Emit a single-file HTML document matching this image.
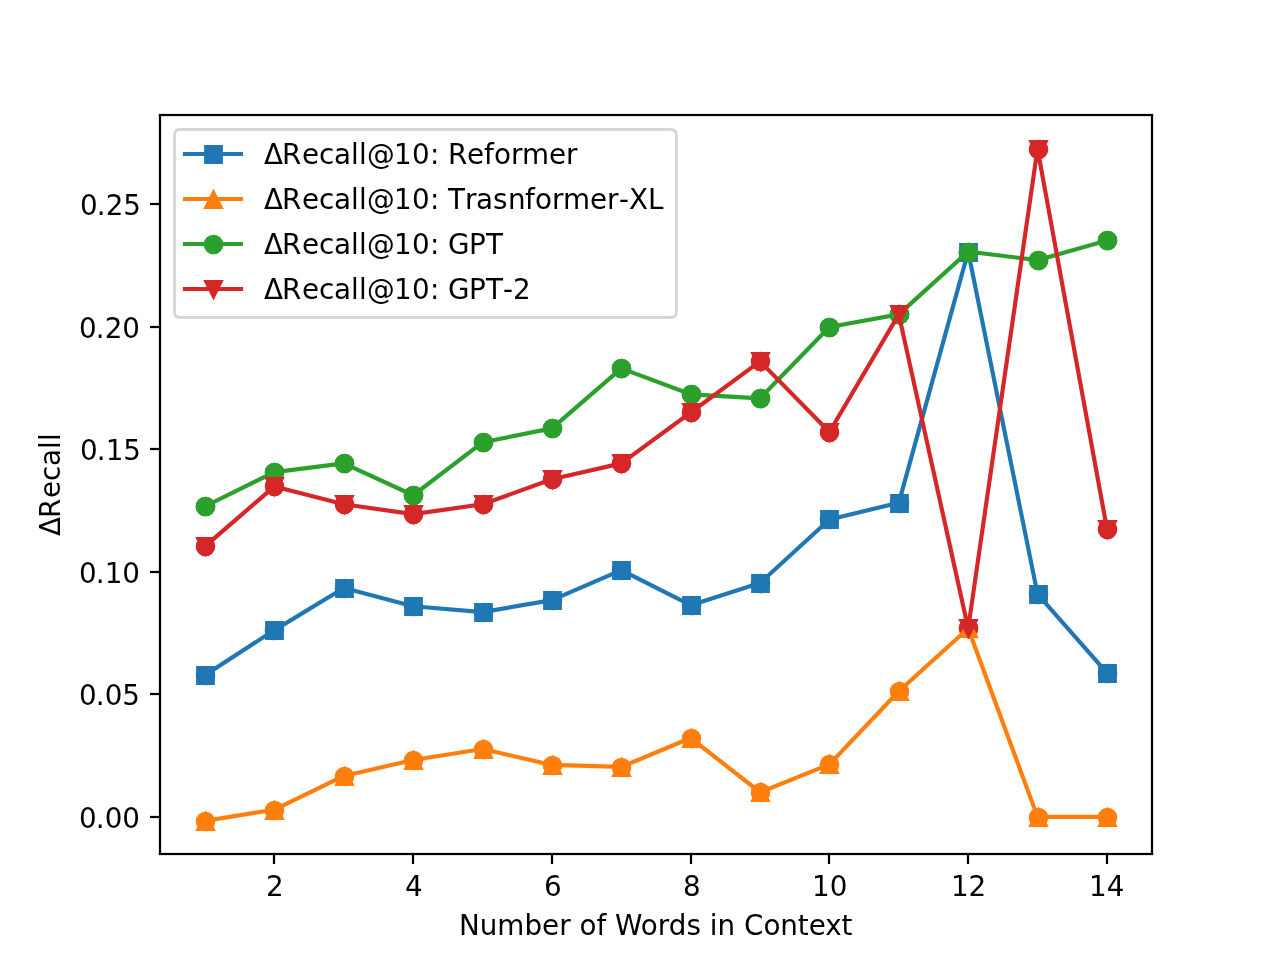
<!DOCTYPE html>
<html><head><meta charset="utf-8"><title>Delta Recall vs Number of Words in Context</title>
<style>html,body{margin:0;padding:0;background:#fff;width:1280px;height:960px;overflow:hidden}svg{display:block}</style>
</head><body>
<svg width="1280" height="960" viewBox="0 0 460.8 345.6">
<defs>
<style type="text/css">*{stroke-linejoin: round; stroke-linecap: butt}</style>
</defs>
<g id="figure_1">
<g id="patch_1">
<path d="M 0 345.6
L 460.8 345.6
L 460.8 0
L 0 0
z
" style="fill: #ffffff"/>
</g>
<g id="axes_1">
<g id="patch_2">
<path d="M 57.6 307.584
L 414.72 307.584
L 414.72 41.472
L 57.6 41.472
z
" style="fill: #ffffff"/>
</g>
<g id="matplotlib.axis_1">
<g id="xtick_1">
<g id="line2d_1">
<g>
<path d="M 0 0
L 0 3.6" transform="translate(98.64 307.44)" style="stroke: #000000; stroke-width: 0.8"/>
</g>
</g>
<g id="text_1">
<text x="95.76" y="322.56" style="font-size: 10px; font-family: 'DejaVu Sans', sans-serif">2</text>
</g>
</g>
<g id="xtick_2">
<g id="line2d_2">
<g>
<path d="M 0 0
L 0 3.6" transform="translate(148.68 307.44)" style="stroke: #000000; stroke-width: 0.8"/>
</g>
</g>
<g id="text_2">
<text x="145.8" y="322.56" style="font-size: 10px; font-family: 'DejaVu Sans', sans-serif">4</text>
</g>
</g>
<g id="xtick_3">
<g id="line2d_3">
<g>
<path d="M 0 0
L 0 3.6" transform="translate(198.72 307.44)" style="stroke: #000000; stroke-width: 0.8"/>
</g>
</g>
<g id="text_3">
<text x="195.84" y="322.56" style="font-size: 10px; font-family: 'DejaVu Sans', sans-serif">6</text>
</g>
</g>
<g id="xtick_4">
<g id="line2d_4">
<g>
<path d="M 0 0
L 0 3.6" transform="translate(248.76 307.44)" style="stroke: #000000; stroke-width: 0.8"/>
</g>
</g>
<g id="text_4">
<text x="245.88" y="322.56" style="font-size: 10px; font-family: 'DejaVu Sans', sans-serif">8</text>
</g>
</g>
<g id="xtick_5">
<g id="line2d_5">
<g>
<path d="M 0 0
L 0 3.6" transform="translate(298.44 307.44)" style="stroke: #000000; stroke-width: 0.8"/>
</g>
</g>
<g id="text_5">
<text x="292.32 298.665" y="322.56" style="font-size: 10px; font-family: 'DejaVu Sans', sans-serif">10</text>
</g>
</g>
<g id="xtick_6">
<g id="line2d_6">
<g>
<path d="M 0 0
L 0 3.6" transform="translate(348.48 307.44)" style="stroke: #000000; stroke-width: 0.8"/>
</g>
</g>
<g id="text_6">
<text x="342.36 348.705" y="322.56" style="font-size: 10px; font-family: 'DejaVu Sans', sans-serif">12</text>
</g>
</g>
<g id="xtick_7">
<g id="line2d_7">
<g>
<path d="M 0 0
L 0 3.6" transform="translate(398.52 307.44)" style="stroke: #000000; stroke-width: 0.8"/>
</g>
</g>
<g id="text_7">
<text x="392.04 398.385" y="322.56" style="font-size: 10px; font-family: 'DejaVu Sans', sans-serif">14</text>
</g>
</g>
<g id="text_8">
<text x="165.24 172.71 179.055 188.82 195.165 201.285 205.425 208.62 214.695 218.205 221.4 230.715 236.79 240.75 247.095 252.315 255.51 258.3 264.645 267.84 274.815 280.89 287.235 291.15 297.09 302.985" y="336.6" style="font-size: 10px; font-family: 'DejaVu Sans', sans-serif">Number of Words in Context</text>
</g>
</g>
<g id="matplotlib.axis_2">
<g id="ytick_1">
<g id="line2d_8">
<g>
<path d="M 0 0
L -3.6 0" transform="translate(57.6 294.12)" style="stroke: #000000; stroke-width: 0.8"/>
</g>
</g>
<g id="text_9">
<text x="28.44 34.47 37.665 44.055" y="298.08" style="font-size: 10px; font-family: 'DejaVu Sans', sans-serif">0.00</text>
</g>
</g>
<g id="ytick_2">
<g id="line2d_9">
<g>
<path d="M 0 0
L -3.6 0" transform="translate(57.6 249.84)" style="stroke: #000000; stroke-width: 0.8"/>
</g>
</g>
<g id="text_10">
<text x="28.44 34.47 37.665 44.055" y="253.8" style="font-size: 10px; font-family: 'DejaVu Sans', sans-serif">0.05</text>
</g>
</g>
<g id="ytick_3">
<g id="line2d_10">
<g>
<path d="M 0 0
L -3.6 0" transform="translate(57.6 205.92)" style="stroke: #000000; stroke-width: 0.8"/>
</g>
</g>
<g id="text_11">
<text x="28.44 34.47 37.665 44.01" y="209.88" style="font-size: 10px; font-family: 'DejaVu Sans', sans-serif">0.10</text>
</g>
</g>
<g id="ytick_4">
<g id="line2d_11">
<g>
<path d="M 0 0
L -3.6 0" transform="translate(57.6 161.64)" style="stroke: #000000; stroke-width: 0.8"/>
</g>
</g>
<g id="text_12">
<text x="28.8 34.83 38.025 44.37" y="165.6" style="font-size: 10px; font-family: 'DejaVu Sans', sans-serif">0.15</text>
</g>
</g>
<g id="ytick_5">
<g id="line2d_12">
<g>
<path d="M 0 0
L -3.6 0" transform="translate(57.6 117.72)" style="stroke: #000000; stroke-width: 0.8"/>
</g>
</g>
<g id="text_13">
<text x="28.44 34.47 37.665 44.01" y="121.68" style="font-size: 10px; font-family: 'DejaVu Sans', sans-serif">0.20</text>
</g>
</g>
<g id="ytick_6">
<g id="line2d_13">
<g>
<path d="M 0 0
L -3.6 0" transform="translate(57.6 73.44)" style="stroke: #000000; stroke-width: 0.8"/>
</g>
</g>
<g id="text_14">
<text x="28.8 34.83 38.025 44.37" y="77.4" style="font-size: 10px; font-family: 'DejaVu Sans', sans-serif">0.25</text>
</g>
</g>
<g id="text_15">
<text x="-192.96 -186.48 -179.28 -173.16 -167.76 -161.64 -158.76" y="21.6" style="font-size: 10px; font-family: 'DejaVu Sans', sans-serif" transform="rotate(-90)">ΔRecall</text>
</g>
</g>
<g id="line2d_14">
<g clip-path="url(#p86c582d0f3)">
<path d="M 0 3.027
C 0.8028 3.027 1.5728 2.7081 2.1404 2.1404
C 2.7081 1.5728 3.027 0.8028 3.027 0
C 3.027 -0.8028 2.7081 -1.5728 2.1404 -2.1404
C 1.5728 -2.7081 0.8028 -3.027 0 -3.027
C -0.8028 -3.027 -1.5728 -2.7081 -2.1404 -2.1404
C -2.7081 -1.5728 -3.027 -0.8028 -3.027 0
C -3.027 0.8028 -2.7081 1.5728 -2.1404 2.1404
C -1.5728 2.7081 -0.8028 3.027 0 3.027
z" transform="translate(73.98 243.18)" style="fill: #1f77b4; stroke: #1f77b4"/>
<path d="M 0 3.027
C 0.8028 3.027 1.5728 2.7081 2.1404 2.1404
C 2.7081 1.5728 3.027 0.8028 3.027 0
C 3.027 -0.8028 2.7081 -1.5728 2.1404 -2.1404
C 1.5728 -2.7081 0.8028 -3.027 0 -3.027
C -0.8028 -3.027 -1.5728 -2.7081 -2.1404 -2.1404
C -2.7081 -1.5728 -3.027 -0.8028 -3.027 0
C -3.027 0.8028 -2.7081 1.5728 -2.1404 2.1404
C -1.5728 2.7081 -0.8028 3.027 0 3.027
z" transform="translate(98.82 226.98)" style="fill: #1f77b4; stroke: #1f77b4"/>
<path d="M 0 3.027
C 0.8028 3.027 1.5728 2.7081 2.1404 2.1404
C 2.7081 1.5728 3.027 0.8028 3.027 0
C 3.027 -0.8028 2.7081 -1.5728 2.1404 -2.1404
C 1.5728 -2.7081 0.8028 -3.027 0 -3.027
C -0.8028 -3.027 -1.5728 -2.7081 -2.1404 -2.1404
C -2.7081 -1.5728 -3.027 -0.8028 -3.027 0
C -3.027 0.8028 -2.7081 1.5728 -2.1404 2.1404
C -1.5728 2.7081 -0.8028 3.027 0 3.027
z" transform="translate(124.02 211.86)" style="fill: #1f77b4; stroke: #1f77b4"/>
<path d="M 0 3.027
C 0.8028 3.027 1.5728 2.7081 2.1404 2.1404
C 2.7081 1.5728 3.027 0.8028 3.027 0
C 3.027 -0.8028 2.7081 -1.5728 2.1404 -2.1404
C 1.5728 -2.7081 0.8028 -3.027 0 -3.027
C -0.8028 -3.027 -1.5728 -2.7081 -2.1404 -2.1404
C -2.7081 -1.5728 -3.027 -0.8028 -3.027 0
C -3.027 0.8028 -2.7081 1.5728 -2.1404 2.1404
C -1.5728 2.7081 -0.8028 3.027 0 3.027
z" transform="translate(148.86 218.34)" style="fill: #1f77b4; stroke: #1f77b4"/>
<path d="M 0 3.027
C 0.8028 3.027 1.5728 2.7081 2.1404 2.1404
C 2.7081 1.5728 3.027 0.8028 3.027 0
C 3.027 -0.8028 2.7081 -1.5728 2.1404 -2.1404
C 1.5728 -2.7081 0.8028 -3.027 0 -3.027
C -0.8028 -3.027 -1.5728 -2.7081 -2.1404 -2.1404
C -2.7081 -1.5728 -3.027 -0.8028 -3.027 0
C -3.027 0.8028 -2.7081 1.5728 -2.1404 2.1404
C -1.5728 2.7081 -0.8028 3.027 0 3.027
z" transform="translate(174.06 220.5)" style="fill: #1f77b4; stroke: #1f77b4"/>
<path d="M 0 3.027
C 0.8028 3.027 1.5728 2.7081 2.1404 2.1404
C 2.7081 1.5728 3.027 0.8028 3.027 0
C 3.027 -0.8028 2.7081 -1.5728 2.1404 -2.1404
C 1.5728 -2.7081 0.8028 -3.027 0 -3.027
C -0.8028 -3.027 -1.5728 -2.7081 -2.1404 -2.1404
C -2.7081 -1.5728 -3.027 -0.8028 -3.027 0
C -3.027 0.8028 -2.7081 1.5728 -2.1404 2.1404
C -1.5728 2.7081 -0.8028 3.027 0 3.027
z" transform="translate(198.9 216.18)" style="fill: #1f77b4; stroke: #1f77b4"/>
<path d="M 0 3.027
C 0.8028 3.027 1.5728 2.7081 2.1404 2.1404
C 2.7081 1.5728 3.027 0.8028 3.027 0
C 3.027 -0.8028 2.7081 -1.5728 2.1404 -2.1404
C 1.5728 -2.7081 0.8028 -3.027 0 -3.027
C -0.8028 -3.027 -1.5728 -2.7081 -2.1404 -2.1404
C -2.7081 -1.5728 -3.027 -0.8028 -3.027 0
C -3.027 0.8028 -2.7081 1.5728 -2.1404 2.1404
C -1.5728 2.7081 -0.8028 3.027 0 3.027
z" transform="translate(223.74 205.38)" style="fill: #1f77b4; stroke: #1f77b4"/>
<path d="M 0 3.027
C 0.8028 3.027 1.5728 2.7081 2.1404 2.1404
C 2.7081 1.5728 3.027 0.8028 3.027 0
C 3.027 -0.8028 2.7081 -1.5728 2.1404 -2.1404
C 1.5728 -2.7081 0.8028 -3.027 0 -3.027
C -0.8028 -3.027 -1.5728 -2.7081 -2.1404 -2.1404
C -2.7081 -1.5728 -3.027 -0.8028 -3.027 0
C -3.027 0.8028 -2.7081 1.5728 -2.1404 2.1404
C -1.5728 2.7081 -0.8028 3.027 0 3.027
z" transform="translate(248.94 217.98)" style="fill: #1f77b4; stroke: #1f77b4"/>
<path d="M 0 3.027
C 0.8028 3.027 1.5728 2.7081 2.1404 2.1404
C 2.7081 1.5728 3.027 0.8028 3.027 0
C 3.027 -0.8028 2.7081 -1.5728 2.1404 -2.1404
C 1.5728 -2.7081 0.8028 -3.027 0 -3.027
C -0.8028 -3.027 -1.5728 -2.7081 -2.1404 -2.1404
C -2.7081 -1.5728 -3.027 -0.8028 -3.027 0
C -3.027 0.8028 -2.7081 1.5728 -2.1404 2.1404
C -1.5728 2.7081 -0.8028 3.027 0 3.027
z" transform="translate(273.78 210.06)" style="fill: #1f77b4; stroke: #1f77b4"/>
<path d="M 0 3.027
C 0.8028 3.027 1.5728 2.7081 2.1404 2.1404
C 2.7081 1.5728 3.027 0.8028 3.027 0
C 3.027 -0.8028 2.7081 -1.5728 2.1404 -2.1404
C 1.5728 -2.7081 0.8028 -3.027 0 -3.027
C -0.8028 -3.027 -1.5728 -2.7081 -2.1404 -2.1404
C -2.7081 -1.5728 -3.027 -0.8028 -3.027 0
C -3.027 0.8028 -2.7081 1.5728 -2.1404 2.1404
C -1.5728 2.7081 -0.8028 3.027 0 3.027
z" transform="translate(298.62 187.02)" style="fill: #1f77b4; stroke: #1f77b4"/>
<path d="M 0 3.027
C 0.8028 3.027 1.5728 2.7081 2.1404 2.1404
C 2.7081 1.5728 3.027 0.8028 3.027 0
C 3.027 -0.8028 2.7081 -1.5728 2.1404 -2.1404
C 1.5728 -2.7081 0.8028 -3.027 0 -3.027
C -0.8028 -3.027 -1.5728 -2.7081 -2.1404 -2.1404
C -2.7081 -1.5728 -3.027 -0.8028 -3.027 0
C -3.027 0.8028 -2.7081 1.5728 -2.1404 2.1404
C -1.5728 2.7081 -0.8028 3.027 0 3.027
z" transform="translate(323.82 181.26)" style="fill: #1f77b4; stroke: #1f77b4"/>
<path d="M 0 3.027
C 0.8028 3.027 1.5728 2.7081 2.1404 2.1404
C 2.7081 1.5728 3.027 0.8028 3.027 0
C 3.027 -0.8028 2.7081 -1.5728 2.1404 -2.1404
C 1.5728 -2.7081 0.8028 -3.027 0 -3.027
C -0.8028 -3.027 -1.5728 -2.7081 -2.1404 -2.1404
C -2.7081 -1.5728 -3.027 -0.8028 -3.027 0
C -3.027 0.8028 -2.7081 1.5728 -2.1404 2.1404
C -1.5728 2.7081 -0.8028 3.027 0 3.027
z" transform="translate(348.66 90.9)" style="fill: #1f77b4; stroke: #1f77b4"/>
<path d="M 0 3.027
C 0.8028 3.027 1.5728 2.7081 2.1404 2.1404
C 2.7081 1.5728 3.027 0.8028 3.027 0
C 3.027 -0.8028 2.7081 -1.5728 2.1404 -2.1404
C 1.5728 -2.7081 0.8028 -3.027 0 -3.027
C -0.8028 -3.027 -1.5728 -2.7081 -2.1404 -2.1404
C -2.7081 -1.5728 -3.027 -0.8028 -3.027 0
C -3.027 0.8028 -2.7081 1.5728 -2.1404 2.1404
C -1.5728 2.7081 -0.8028 3.027 0 3.027
z" transform="translate(373.86 214.02)" style="fill: #1f77b4; stroke: #1f77b4"/>
<path d="M 0 3.027
C 0.8028 3.027 1.5728 2.7081 2.1404 2.1404
C 2.7081 1.5728 3.027 0.8028 3.027 0
C 3.027 -0.8028 2.7081 -1.5728 2.1404 -2.1404
C 1.5728 -2.7081 0.8028 -3.027 0 -3.027
C -0.8028 -3.027 -1.5728 -2.7081 -2.1404 -2.1404
C -2.7081 -1.5728 -3.027 -0.8028 -3.027 0
C -3.027 0.8028 -2.7081 1.5728 -2.1404 2.1404
C -1.5728 2.7081 -0.8028 3.027 0 3.027
z" transform="translate(398.7 242.46)" style="fill: #1f77b4; stroke: #1f77b4"/>
</g>
</g>
<g id="line2d_15">
<g clip-path="url(#p86c582d0f3)">
<path d="M 0 3.027
C 0.8028 3.027 1.5728 2.7081 2.1404 2.1404
C 2.7081 1.5728 3.027 0.8028 3.027 0
C 3.027 -0.8028 2.7081 -1.5728 2.1404 -2.1404
C 1.5728 -2.7081 0.8028 -3.027 0 -3.027
C -0.8028 -3.027 -1.5728 -2.7081 -2.1404 -2.1404
C -2.7081 -1.5728 -3.027 -0.8028 -3.027 0
C -3.027 0.8028 -2.7081 1.5728 -2.1404 2.1404
C -1.5728 2.7081 -0.8028 3.027 0 3.027
z" transform="translate(73.98 295.74)" style="fill: #ff7f0e; stroke: #ff7f0e"/>
<path d="M 0 3.027
C 0.8028 3.027 1.5728 2.7081 2.1404 2.1404
C 2.7081 1.5728 3.027 0.8028 3.027 0
C 3.027 -0.8028 2.7081 -1.5728 2.1404 -2.1404
C 1.5728 -2.7081 0.8028 -3.027 0 -3.027
C -0.8028 -3.027 -1.5728 -2.7081 -2.1404 -2.1404
C -2.7081 -1.5728 -3.027 -0.8028 -3.027 0
C -3.027 0.8028 -2.7081 1.5728 -2.1404 2.1404
C -1.5728 2.7081 -0.8028 3.027 0 3.027
z" transform="translate(98.82 291.78)" style="fill: #ff7f0e; stroke: #ff7f0e"/>
<path d="M 0 3.027
C 0.8028 3.027 1.5728 2.7081 2.1404 2.1404
C 2.7081 1.5728 3.027 0.8028 3.027 0
C 3.027 -0.8028 2.7081 -1.5728 2.1404 -2.1404
C 1.5728 -2.7081 0.8028 -3.027 0 -3.027
C -0.8028 -3.027 -1.5728 -2.7081 -2.1404 -2.1404
C -2.7081 -1.5728 -3.027 -0.8028 -3.027 0
C -3.027 0.8028 -2.7081 1.5728 -2.1404 2.1404
C -1.5728 2.7081 -0.8028 3.027 0 3.027
z" transform="translate(124.02 279.54)" style="fill: #ff7f0e; stroke: #ff7f0e"/>
<path d="M 0 3.027
C 0.8028 3.027 1.5728 2.7081 2.1404 2.1404
C 2.7081 1.5728 3.027 0.8028 3.027 0
C 3.027 -0.8028 2.7081 -1.5728 2.1404 -2.1404
C 1.5728 -2.7081 0.8028 -3.027 0 -3.027
C -0.8028 -3.027 -1.5728 -2.7081 -2.1404 -2.1404
C -2.7081 -1.5728 -3.027 -0.8028 -3.027 0
C -3.027 0.8028 -2.7081 1.5728 -2.1404 2.1404
C -1.5728 2.7081 -0.8028 3.027 0 3.027
z" transform="translate(148.86 273.78)" style="fill: #ff7f0e; stroke: #ff7f0e"/>
<path d="M 0 3.027
C 0.8028 3.027 1.5728 2.7081 2.1404 2.1404
C 2.7081 1.5728 3.027 0.8028 3.027 0
C 3.027 -0.8028 2.7081 -1.5728 2.1404 -2.1404
C 1.5728 -2.7081 0.8028 -3.027 0 -3.027
C -0.8028 -3.027 -1.5728 -2.7081 -2.1404 -2.1404
C -2.7081 -1.5728 -3.027 -0.8028 -3.027 0
C -3.027 0.8028 -2.7081 1.5728 -2.1404 2.1404
C -1.5728 2.7081 -0.8028 3.027 0 3.027
z" transform="translate(174.06 269.82)" style="fill: #ff7f0e; stroke: #ff7f0e"/>
<path d="M 0 3.027
C 0.8028 3.027 1.5728 2.7081 2.1404 2.1404
C 2.7081 1.5728 3.027 0.8028 3.027 0
C 3.027 -0.8028 2.7081 -1.5728 2.1404 -2.1404
C 1.5728 -2.7081 0.8028 -3.027 0 -3.027
C -0.8028 -3.027 -1.5728 -2.7081 -2.1404 -2.1404
C -2.7081 -1.5728 -3.027 -0.8028 -3.027 0
C -3.027 0.8028 -2.7081 1.5728 -2.1404 2.1404
C -1.5728 2.7081 -0.8028 3.027 0 3.027
z" transform="translate(198.9 275.58)" style="fill: #ff7f0e; stroke: #ff7f0e"/>
<path d="M 0 3.027
C 0.8028 3.027 1.5728 2.7081 2.1404 2.1404
C 2.7081 1.5728 3.027 0.8028 3.027 0
C 3.027 -0.8028 2.7081 -1.5728 2.1404 -2.1404
C 1.5728 -2.7081 0.8028 -3.027 0 -3.027
C -0.8028 -3.027 -1.5728 -2.7081 -2.1404 -2.1404
C -2.7081 -1.5728 -3.027 -0.8028 -3.027 0
C -3.027 0.8028 -2.7081 1.5728 -2.1404 2.1404
C -1.5728 2.7081 -0.8028 3.027 0 3.027
z" transform="translate(223.74 276.3)" style="fill: #ff7f0e; stroke: #ff7f0e"/>
<path d="M 0 3.027
C 0.8028 3.027 1.5728 2.7081 2.1404 2.1404
C 2.7081 1.5728 3.027 0.8028 3.027 0
C 3.027 -0.8028 2.7081 -1.5728 2.1404 -2.1404
C 1.5728 -2.7081 0.8028 -3.027 0 -3.027
C -0.8028 -3.027 -1.5728 -2.7081 -2.1404 -2.1404
C -2.7081 -1.5728 -3.027 -0.8028 -3.027 0
C -3.027 0.8028 -2.7081 1.5728 -2.1404 2.1404
C -1.5728 2.7081 -0.8028 3.027 0 3.027
z" transform="translate(248.94 265.86)" style="fill: #ff7f0e; stroke: #ff7f0e"/>
<path d="M 0 3.027
C 0.8028 3.027 1.5728 2.7081 2.1404 2.1404
C 2.7081 1.5728 3.027 0.8028 3.027 0
C 3.027 -0.8028 2.7081 -1.5728 2.1404 -2.1404
C 1.5728 -2.7081 0.8028 -3.027 0 -3.027
C -0.8028 -3.027 -1.5728 -2.7081 -2.1404 -2.1404
C -2.7081 -1.5728 -3.027 -0.8028 -3.027 0
C -3.027 0.8028 -2.7081 1.5728 -2.1404 2.1404
C -1.5728 2.7081 -0.8028 3.027 0 3.027
z" transform="translate(273.78 285.3)" style="fill: #ff7f0e; stroke: #ff7f0e"/>
<path d="M 0 3.027
C 0.8028 3.027 1.5728 2.7081 2.1404 2.1404
C 2.7081 1.5728 3.027 0.8028 3.027 0
C 3.027 -0.8028 2.7081 -1.5728 2.1404 -2.1404
C 1.5728 -2.7081 0.8028 -3.027 0 -3.027
C -0.8028 -3.027 -1.5728 -2.7081 -2.1404 -2.1404
C -2.7081 -1.5728 -3.027 -0.8028 -3.027 0
C -3.027 0.8028 -2.7081 1.5728 -2.1404 2.1404
C -1.5728 2.7081 -0.8028 3.027 0 3.027
z" transform="translate(298.62 275.22)" style="fill: #ff7f0e; stroke: #ff7f0e"/>
<path d="M 0 3.027
C 0.8028 3.027 1.5728 2.7081 2.1404 2.1404
C 2.7081 1.5728 3.027 0.8028 3.027 0
C 3.027 -0.8028 2.7081 -1.5728 2.1404 -2.1404
C 1.5728 -2.7081 0.8028 -3.027 0 -3.027
C -0.8028 -3.027 -1.5728 -2.7081 -2.1404 -2.1404
C -2.7081 -1.5728 -3.027 -0.8028 -3.027 0
C -3.027 0.8028 -2.7081 1.5728 -2.1404 2.1404
C -1.5728 2.7081 -0.8028 3.027 0 3.027
z" transform="translate(323.82 248.94)" style="fill: #ff7f0e; stroke: #ff7f0e"/>
<path d="M 0 3.027
C 0.8028 3.027 1.5728 2.7081 2.1404 2.1404
C 2.7081 1.5728 3.027 0.8028 3.027 0
C 3.027 -0.8028 2.7081 -1.5728 2.1404 -2.1404
C 1.5728 -2.7081 0.8028 -3.027 0 -3.027
C -0.8028 -3.027 -1.5728 -2.7081 -2.1404 -2.1404
C -2.7081 -1.5728 -3.027 -0.8028 -3.027 0
C -3.027 0.8028 -2.7081 1.5728 -2.1404 2.1404
C -1.5728 2.7081 -0.8028 3.027 0 3.027
z" transform="translate(348.66 226.26)" style="fill: #ff7f0e; stroke: #ff7f0e"/>
<path d="M 0 3.027
C 0.8028 3.027 1.5728 2.7081 2.1404 2.1404
C 2.7081 1.5728 3.027 0.8028 3.027 0
C 3.027 -0.8028 2.7081 -1.5728 2.1404 -2.1404
C 1.5728 -2.7081 0.8028 -3.027 0 -3.027
C -0.8028 -3.027 -1.5728 -2.7081 -2.1404 -2.1404
C -2.7081 -1.5728 -3.027 -0.8028 -3.027 0
C -3.027 0.8028 -2.7081 1.5728 -2.1404 2.1404
C -1.5728 2.7081 -0.8028 3.027 0 3.027
z" transform="translate(373.86 294.3)" style="fill: #ff7f0e; stroke: #ff7f0e"/>
<path d="M 0 3.027
C 0.8028 3.027 1.5728 2.7081 2.1404 2.1404
C 2.7081 1.5728 3.027 0.8028 3.027 0
C 3.027 -0.8028 2.7081 -1.5728 2.1404 -2.1404
C 1.5728 -2.7081 0.8028 -3.027 0 -3.027
C -0.8028 -3.027 -1.5728 -2.7081 -2.1404 -2.1404
C -2.7081 -1.5728 -3.027 -0.8028 -3.027 0
C -3.027 0.8028 -2.7081 1.5728 -2.1404 2.1404
C -1.5728 2.7081 -0.8028 3.027 0 3.027
z" transform="translate(398.7 294.3)" style="fill: #ff7f0e; stroke: #ff7f0e"/>
</g>
</g>
<g id="line2d_16">
<g clip-path="url(#p86c582d0f3)">
<path d="M 0 3.027
C 0.8028 3.027 1.5728 2.7081 2.1404 2.1404
C 2.7081 1.5728 3.027 0.8028 3.027 0
C 3.027 -0.8028 2.7081 -1.5728 2.1404 -2.1404
C 1.5728 -2.7081 0.8028 -3.027 0 -3.027
C -0.8028 -3.027 -1.5728 -2.7081 -2.1404 -2.1404
C -2.7081 -1.5728 -3.027 -0.8028 -3.027 0
C -3.027 0.8028 -2.7081 1.5728 -2.1404 2.1404
C -1.5728 2.7081 -0.8028 3.027 0 3.027
z" transform="translate(73.98 182.34)" style="fill: #2ca02c; stroke: #2ca02c"/>
<path d="M 0 3.027
C 0.8028 3.027 1.5728 2.7081 2.1404 2.1404
C 2.7081 1.5728 3.027 0.8028 3.027 0
C 3.027 -0.8028 2.7081 -1.5728 2.1404 -2.1404
C 1.5728 -2.7081 0.8028 -3.027 0 -3.027
C -0.8028 -3.027 -1.5728 -2.7081 -2.1404 -2.1404
C -2.7081 -1.5728 -3.027 -0.8028 -3.027 0
C -3.027 0.8028 -2.7081 1.5728 -2.1404 2.1404
C -1.5728 2.7081 -0.8028 3.027 0 3.027
z" transform="translate(98.82 170.1)" style="fill: #2ca02c; stroke: #2ca02c"/>
<path d="M 0 3.027
C 0.8028 3.027 1.5728 2.7081 2.1404 2.1404
C 2.7081 1.5728 3.027 0.8028 3.027 0
C 3.027 -0.8028 2.7081 -1.5728 2.1404 -2.1404
C 1.5728 -2.7081 0.8028 -3.027 0 -3.027
C -0.8028 -3.027 -1.5728 -2.7081 -2.1404 -2.1404
C -2.7081 -1.5728 -3.027 -0.8028 -3.027 0
C -3.027 0.8028 -2.7081 1.5728 -2.1404 2.1404
C -1.5728 2.7081 -0.8028 3.027 0 3.027
z" transform="translate(124.02 166.86)" style="fill: #2ca02c; stroke: #2ca02c"/>
<path d="M 0 3.027
C 0.8028 3.027 1.5728 2.7081 2.1404 2.1404
C 2.7081 1.5728 3.027 0.8028 3.027 0
C 3.027 -0.8028 2.7081 -1.5728 2.1404 -2.1404
C 1.5728 -2.7081 0.8028 -3.027 0 -3.027
C -0.8028 -3.027 -1.5728 -2.7081 -2.1404 -2.1404
C -2.7081 -1.5728 -3.027 -0.8028 -3.027 0
C -3.027 0.8028 -2.7081 1.5728 -2.1404 2.1404
C -1.5728 2.7081 -0.8028 3.027 0 3.027
z" transform="translate(148.86 178.38)" style="fill: #2ca02c; stroke: #2ca02c"/>
<path d="M 0 3.027
C 0.8028 3.027 1.5728 2.7081 2.1404 2.1404
C 2.7081 1.5728 3.027 0.8028 3.027 0
C 3.027 -0.8028 2.7081 -1.5728 2.1404 -2.1404
C 1.5728 -2.7081 0.8028 -3.027 0 -3.027
C -0.8028 -3.027 -1.5728 -2.7081 -2.1404 -2.1404
C -2.7081 -1.5728 -3.027 -0.8028 -3.027 0
C -3.027 0.8028 -2.7081 1.5728 -2.1404 2.1404
C -1.5728 2.7081 -0.8028 3.027 0 3.027
z" transform="translate(174.06 159.3)" style="fill: #2ca02c; stroke: #2ca02c"/>
<path d="M 0 3.027
C 0.8028 3.027 1.5728 2.7081 2.1404 2.1404
C 2.7081 1.5728 3.027 0.8028 3.027 0
C 3.027 -0.8028 2.7081 -1.5728 2.1404 -2.1404
C 1.5728 -2.7081 0.8028 -3.027 0 -3.027
C -0.8028 -3.027 -1.5728 -2.7081 -2.1404 -2.1404
C -2.7081 -1.5728 -3.027 -0.8028 -3.027 0
C -3.027 0.8028 -2.7081 1.5728 -2.1404 2.1404
C -1.5728 2.7081 -0.8028 3.027 0 3.027
z" transform="translate(198.9 154.26)" style="fill: #2ca02c; stroke: #2ca02c"/>
<path d="M 0 3.027
C 0.8028 3.027 1.5728 2.7081 2.1404 2.1404
C 2.7081 1.5728 3.027 0.8028 3.027 0
C 3.027 -0.8028 2.7081 -1.5728 2.1404 -2.1404
C 1.5728 -2.7081 0.8028 -3.027 0 -3.027
C -0.8028 -3.027 -1.5728 -2.7081 -2.1404 -2.1404
C -2.7081 -1.5728 -3.027 -0.8028 -3.027 0
C -3.027 0.8028 -2.7081 1.5728 -2.1404 2.1404
C -1.5728 2.7081 -0.8028 3.027 0 3.027
z" transform="translate(223.74 132.66)" style="fill: #2ca02c; stroke: #2ca02c"/>
<path d="M 0 3.027
C 0.8028 3.027 1.5728 2.7081 2.1404 2.1404
C 2.7081 1.5728 3.027 0.8028 3.027 0
C 3.027 -0.8028 2.7081 -1.5728 2.1404 -2.1404
C 1.5728 -2.7081 0.8028 -3.027 0 -3.027
C -0.8028 -3.027 -1.5728 -2.7081 -2.1404 -2.1404
C -2.7081 -1.5728 -3.027 -0.8028 -3.027 0
C -3.027 0.8028 -2.7081 1.5728 -2.1404 2.1404
C -1.5728 2.7081 -0.8028 3.027 0 3.027
z" transform="translate(248.94 142.02)" style="fill: #2ca02c; stroke: #2ca02c"/>
<path d="M 0 3.027
C 0.8028 3.027 1.5728 2.7081 2.1404 2.1404
C 2.7081 1.5728 3.027 0.8028 3.027 0
C 3.027 -0.8028 2.7081 -1.5728 2.1404 -2.1404
C 1.5728 -2.7081 0.8028 -3.027 0 -3.027
C -0.8028 -3.027 -1.5728 -2.7081 -2.1404 -2.1404
C -2.7081 -1.5728 -3.027 -0.8028 -3.027 0
C -3.027 0.8028 -2.7081 1.5728 -2.1404 2.1404
C -1.5728 2.7081 -0.8028 3.027 0 3.027
z" transform="translate(273.78 143.46)" style="fill: #2ca02c; stroke: #2ca02c"/>
<path d="M 0 3.027
C 0.8028 3.027 1.5728 2.7081 2.1404 2.1404
C 2.7081 1.5728 3.027 0.8028 3.027 0
C 3.027 -0.8028 2.7081 -1.5728 2.1404 -2.1404
C 1.5728 -2.7081 0.8028 -3.027 0 -3.027
C -0.8028 -3.027 -1.5728 -2.7081 -2.1404 -2.1404
C -2.7081 -1.5728 -3.027 -0.8028 -3.027 0
C -3.027 0.8028 -2.7081 1.5728 -2.1404 2.1404
C -1.5728 2.7081 -0.8028 3.027 0 3.027
z" transform="translate(298.62 117.9)" style="fill: #2ca02c; stroke: #2ca02c"/>
<path d="M 0 3.027
C 0.8028 3.027 1.5728 2.7081 2.1404 2.1404
C 2.7081 1.5728 3.027 0.8028 3.027 0
C 3.027 -0.8028 2.7081 -1.5728 2.1404 -2.1404
C 1.5728 -2.7081 0.8028 -3.027 0 -3.027
C -0.8028 -3.027 -1.5728 -2.7081 -2.1404 -2.1404
C -2.7081 -1.5728 -3.027 -0.8028 -3.027 0
C -3.027 0.8028 -2.7081 1.5728 -2.1404 2.1404
C -1.5728 2.7081 -0.8028 3.027 0 3.027
z" transform="translate(323.82 113.22)" style="fill: #2ca02c; stroke: #2ca02c"/>
<path d="M 0 3.027
C 0.8028 3.027 1.5728 2.7081 2.1404 2.1404
C 2.7081 1.5728 3.027 0.8028 3.027 0
C 3.027 -0.8028 2.7081 -1.5728 2.1404 -2.1404
C 1.5728 -2.7081 0.8028 -3.027 0 -3.027
C -0.8028 -3.027 -1.5728 -2.7081 -2.1404 -2.1404
C -2.7081 -1.5728 -3.027 -0.8028 -3.027 0
C -3.027 0.8028 -2.7081 1.5728 -2.1404 2.1404
C -1.5728 2.7081 -0.8028 3.027 0 3.027
z" transform="translate(348.66 90.9)" style="fill: #2ca02c; stroke: #2ca02c"/>
<path d="M 0 3.027
C 0.8028 3.027 1.5728 2.7081 2.1404 2.1404
C 2.7081 1.5728 3.027 0.8028 3.027 0
C 3.027 -0.8028 2.7081 -1.5728 2.1404 -2.1404
C 1.5728 -2.7081 0.8028 -3.027 0 -3.027
C -0.8028 -3.027 -1.5728 -2.7081 -2.1404 -2.1404
C -2.7081 -1.5728 -3.027 -0.8028 -3.027 0
C -3.027 0.8028 -2.7081 1.5728 -2.1404 2.1404
C -1.5728 2.7081 -0.8028 3.027 0 3.027
z" transform="translate(373.86 93.78)" style="fill: #2ca02c; stroke: #2ca02c"/>
<path d="M 0 3.027
C 0.8028 3.027 1.5728 2.7081 2.1404 2.1404
C 2.7081 1.5728 3.027 0.8028 3.027 0
C 3.027 -0.8028 2.7081 -1.5728 2.1404 -2.1404
C 1.5728 -2.7081 0.8028 -3.027 0 -3.027
C -0.8028 -3.027 -1.5728 -2.7081 -2.1404 -2.1404
C -2.7081 -1.5728 -3.027 -0.8028 -3.027 0
C -3.027 0.8028 -2.7081 1.5728 -2.1404 2.1404
C -1.5728 2.7081 -0.8028 3.027 0 3.027
z" transform="translate(398.7 86.58)" style="fill: #2ca02c; stroke: #2ca02c"/>
</g>
</g>
<g id="line2d_17">
<g clip-path="url(#p86c582d0f3)">
<path d="M 0 3.027
C 0.8028 3.027 1.5728 2.7081 2.1404 2.1404
C 2.7081 1.5728 3.027 0.8028 3.027 0
C 3.027 -0.8028 2.7081 -1.5728 2.1404 -2.1404
C 1.5728 -2.7081 0.8028 -3.027 0 -3.027
C -0.8028 -3.027 -1.5728 -2.7081 -2.1404 -2.1404
C -2.7081 -1.5728 -3.027 -0.8028 -3.027 0
C -3.027 0.8028 -2.7081 1.5728 -2.1404 2.1404
C -1.5728 2.7081 -0.8028 3.027 0 3.027
z" transform="translate(73.98 196.74)" style="fill: #d62728; stroke: #d62728"/>
<path d="M 0 3.027
C 0.8028 3.027 1.5728 2.7081 2.1404 2.1404
C 2.7081 1.5728 3.027 0.8028 3.027 0
C 3.027 -0.8028 2.7081 -1.5728 2.1404 -2.1404
C 1.5728 -2.7081 0.8028 -3.027 0 -3.027
C -0.8028 -3.027 -1.5728 -2.7081 -2.1404 -2.1404
C -2.7081 -1.5728 -3.027 -0.8028 -3.027 0
C -3.027 0.8028 -2.7081 1.5728 -2.1404 2.1404
C -1.5728 2.7081 -0.8028 3.027 0 3.027
z" transform="translate(98.82 175.14)" style="fill: #d62728; stroke: #d62728"/>
<path d="M 0 3.027
C 0.8028 3.027 1.5728 2.7081 2.1404 2.1404
C 2.7081 1.5728 3.027 0.8028 3.027 0
C 3.027 -0.8028 2.7081 -1.5728 2.1404 -2.1404
C 1.5728 -2.7081 0.8028 -3.027 0 -3.027
C -0.8028 -3.027 -1.5728 -2.7081 -2.1404 -2.1404
C -2.7081 -1.5728 -3.027 -0.8028 -3.027 0
C -3.027 0.8028 -2.7081 1.5728 -2.1404 2.1404
C -1.5728 2.7081 -0.8028 3.027 0 3.027
z" transform="translate(124.02 181.62)" style="fill: #d62728; stroke: #d62728"/>
<path d="M 0 3.027
C 0.8028 3.027 1.5728 2.7081 2.1404 2.1404
C 2.7081 1.5728 3.027 0.8028 3.027 0
C 3.027 -0.8028 2.7081 -1.5728 2.1404 -2.1404
C 1.5728 -2.7081 0.8028 -3.027 0 -3.027
C -0.8028 -3.027 -1.5728 -2.7081 -2.1404 -2.1404
C -2.7081 -1.5728 -3.027 -0.8028 -3.027 0
C -3.027 0.8028 -2.7081 1.5728 -2.1404 2.1404
C -1.5728 2.7081 -0.8028 3.027 0 3.027
z" transform="translate(148.86 185.22)" style="fill: #d62728; stroke: #d62728"/>
<path d="M 0 3.027
C 0.8028 3.027 1.5728 2.7081 2.1404 2.1404
C 2.7081 1.5728 3.027 0.8028 3.027 0
C 3.027 -0.8028 2.7081 -1.5728 2.1404 -2.1404
C 1.5728 -2.7081 0.8028 -3.027 0 -3.027
C -0.8028 -3.027 -1.5728 -2.7081 -2.1404 -2.1404
C -2.7081 -1.5728 -3.027 -0.8028 -3.027 0
C -3.027 0.8028 -2.7081 1.5728 -2.1404 2.1404
C -1.5728 2.7081 -0.8028 3.027 0 3.027
z" transform="translate(174.06 181.62)" style="fill: #d62728; stroke: #d62728"/>
<path d="M 0 3.027
C 0.8028 3.027 1.5728 2.7081 2.1404 2.1404
C 2.7081 1.5728 3.027 0.8028 3.027 0
C 3.027 -0.8028 2.7081 -1.5728 2.1404 -2.1404
C 1.5728 -2.7081 0.8028 -3.027 0 -3.027
C -0.8028 -3.027 -1.5728 -2.7081 -2.1404 -2.1404
C -2.7081 -1.5728 -3.027 -0.8028 -3.027 0
C -3.027 0.8028 -2.7081 1.5728 -2.1404 2.1404
C -1.5728 2.7081 -0.8028 3.027 0 3.027
z" transform="translate(198.9 172.62)" style="fill: #d62728; stroke: #d62728"/>
<path d="M 0 3.027
C 0.8028 3.027 1.5728 2.7081 2.1404 2.1404
C 2.7081 1.5728 3.027 0.8028 3.027 0
C 3.027 -0.8028 2.7081 -1.5728 2.1404 -2.1404
C 1.5728 -2.7081 0.8028 -3.027 0 -3.027
C -0.8028 -3.027 -1.5728 -2.7081 -2.1404 -2.1404
C -2.7081 -1.5728 -3.027 -0.8028 -3.027 0
C -3.027 0.8028 -2.7081 1.5728 -2.1404 2.1404
C -1.5728 2.7081 -0.8028 3.027 0 3.027
z" transform="translate(223.74 166.86)" style="fill: #d62728; stroke: #d62728"/>
<path d="M 0 3.027
C 0.8028 3.027 1.5728 2.7081 2.1404 2.1404
C 2.7081 1.5728 3.027 0.8028 3.027 0
C 3.027 -0.8028 2.7081 -1.5728 2.1404 -2.1404
C 1.5728 -2.7081 0.8028 -3.027 0 -3.027
C -0.8028 -3.027 -1.5728 -2.7081 -2.1404 -2.1404
C -2.7081 -1.5728 -3.027 -0.8028 -3.027 0
C -3.027 0.8028 -2.7081 1.5728 -2.1404 2.1404
C -1.5728 2.7081 -0.8028 3.027 0 3.027
z" transform="translate(248.94 148.5)" style="fill: #d62728; stroke: #d62728"/>
<path d="M 0 3.027
C 0.8028 3.027 1.5728 2.7081 2.1404 2.1404
C 2.7081 1.5728 3.027 0.8028 3.027 0
C 3.027 -0.8028 2.7081 -1.5728 2.1404 -2.1404
C 1.5728 -2.7081 0.8028 -3.027 0 -3.027
C -0.8028 -3.027 -1.5728 -2.7081 -2.1404 -2.1404
C -2.7081 -1.5728 -3.027 -0.8028 -3.027 0
C -3.027 0.8028 -2.7081 1.5728 -2.1404 2.1404
C -1.5728 2.7081 -0.8028 3.027 0 3.027
z" transform="translate(273.78 130.14)" style="fill: #d62728; stroke: #d62728"/>
<path d="M 0 3.027
C 0.8028 3.027 1.5728 2.7081 2.1404 2.1404
C 2.7081 1.5728 3.027 0.8028 3.027 0
C 3.027 -0.8028 2.7081 -1.5728 2.1404 -2.1404
C 1.5728 -2.7081 0.8028 -3.027 0 -3.027
C -0.8028 -3.027 -1.5728 -2.7081 -2.1404 -2.1404
C -2.7081 -1.5728 -3.027 -0.8028 -3.027 0
C -3.027 0.8028 -2.7081 1.5728 -2.1404 2.1404
C -1.5728 2.7081 -0.8028 3.027 0 3.027
z" transform="translate(298.62 155.7)" style="fill: #d62728; stroke: #d62728"/>
<path d="M 0 3.027
C 0.8028 3.027 1.5728 2.7081 2.1404 2.1404
C 2.7081 1.5728 3.027 0.8028 3.027 0
C 3.027 -0.8028 2.7081 -1.5728 2.1404 -2.1404
C 1.5728 -2.7081 0.8028 -3.027 0 -3.027
C -0.8028 -3.027 -1.5728 -2.7081 -2.1404 -2.1404
C -2.7081 -1.5728 -3.027 -0.8028 -3.027 0
C -3.027 0.8028 -2.7081 1.5728 -2.1404 2.1404
C -1.5728 2.7081 -0.8028 3.027 0 3.027
z" transform="translate(323.82 113.22)" style="fill: #d62728; stroke: #d62728"/>
<path d="M 0 3.027
C 0.8028 3.027 1.5728 2.7081 2.1404 2.1404
C 2.7081 1.5728 3.027 0.8028 3.027 0
C 3.027 -0.8028 2.7081 -1.5728 2.1404 -2.1404
C 1.5728 -2.7081 0.8028 -3.027 0 -3.027
C -0.8028 -3.027 -1.5728 -2.7081 -2.1404 -2.1404
C -2.7081 -1.5728 -3.027 -0.8028 -3.027 0
C -3.027 0.8028 -2.7081 1.5728 -2.1404 2.1404
C -1.5728 2.7081 -0.8028 3.027 0 3.027
z" transform="translate(348.66 226.26)" style="fill: #d62728; stroke: #d62728"/>
<path d="M 0 3.027
C 0.8028 3.027 1.5728 2.7081 2.1404 2.1404
C 2.7081 1.5728 3.027 0.8028 3.027 0
C 3.027 -0.8028 2.7081 -1.5728 2.1404 -2.1404
C 1.5728 -2.7081 0.8028 -3.027 0 -3.027
C -0.8028 -3.027 -1.5728 -2.7081 -2.1404 -2.1404
C -2.7081 -1.5728 -3.027 -0.8028 -3.027 0
C -3.027 0.8028 -2.7081 1.5728 -2.1404 2.1404
C -1.5728 2.7081 -0.8028 3.027 0 3.027
z" transform="translate(373.86 53.82)" style="fill: #d62728; stroke: #d62728"/>
<path d="M 0 3.027
C 0.8028 3.027 1.5728 2.7081 2.1404 2.1404
C 2.7081 1.5728 3.027 0.8028 3.027 0
C 3.027 -0.8028 2.7081 -1.5728 2.1404 -2.1404
C 1.5728 -2.7081 0.8028 -3.027 0 -3.027
C -0.8028 -3.027 -1.5728 -2.7081 -2.1404 -2.1404
C -2.7081 -1.5728 -3.027 -0.8028 -3.027 0
C -3.027 0.8028 -2.7081 1.5728 -2.1404 2.1404
C -1.5728 2.7081 -0.8028 3.027 0 3.027
z" transform="translate(398.7 190.62)" style="fill: #d62728; stroke: #d62728"/>
</g>
</g>
<g id="line2d_18">
<path d="M 73.832727 243.01695
L 98.806154 226.837935
L 123.77958 211.710694
L 148.753007 218.236505
L 173.726434 220.352984
L 198.69986 216.031839
L 223.673287 205.273069
L 248.646713 217.883758
L 273.62014 209.878716
L 298.593566 186.993239
L 323.566993 181.017221
L 348.54042 90.569387
L 373.513846 213.907343
L 398.487273 242.202521
" clip-path="url(#p86c582d0f3)" style="fill: none; stroke: #1f77b4; stroke-width: 1.5; stroke-linecap: square"/>
<g clip-path="url(#p86c582d0f3)">
<path d="M -2.88 2.88
L 2.88 2.88
L 2.88 -2.88
L -2.88 -2.88
z" transform="translate(73.98 243.18)" style="fill: #1f77b4; stroke: #1f77b4; stroke-linejoin: miter"/>
<path d="M -2.88 2.88
L 2.88 2.88
L 2.88 -2.88
L -2.88 -2.88
z" transform="translate(98.82 226.98)" style="fill: #1f77b4; stroke: #1f77b4; stroke-linejoin: miter"/>
<path d="M -2.88 2.88
L 2.88 2.88
L 2.88 -2.88
L -2.88 -2.88
z" transform="translate(124.02 211.86)" style="fill: #1f77b4; stroke: #1f77b4; stroke-linejoin: miter"/>
<path d="M -2.88 2.88
L 2.88 2.88
L 2.88 -2.88
L -2.88 -2.88
z" transform="translate(148.86 218.34)" style="fill: #1f77b4; stroke: #1f77b4; stroke-linejoin: miter"/>
<path d="M -2.88 2.88
L 2.88 2.88
L 2.88 -2.88
L -2.88 -2.88
z" transform="translate(174.06 220.5)" style="fill: #1f77b4; stroke: #1f77b4; stroke-linejoin: miter"/>
<path d="M -2.88 2.88
L 2.88 2.88
L 2.88 -2.88
L -2.88 -2.88
z" transform="translate(198.9 216.18)" style="fill: #1f77b4; stroke: #1f77b4; stroke-linejoin: miter"/>
<path d="M -2.88 2.88
L 2.88 2.88
L 2.88 -2.88
L -2.88 -2.88
z" transform="translate(223.74 205.38)" style="fill: #1f77b4; stroke: #1f77b4; stroke-linejoin: miter"/>
<path d="M -2.88 2.88
L 2.88 2.88
L 2.88 -2.88
L -2.88 -2.88
z" transform="translate(248.94 217.98)" style="fill: #1f77b4; stroke: #1f77b4; stroke-linejoin: miter"/>
<path d="M -2.88 2.88
L 2.88 2.88
L 2.88 -2.88
L -2.88 -2.88
z" transform="translate(273.78 210.06)" style="fill: #1f77b4; stroke: #1f77b4; stroke-linejoin: miter"/>
<path d="M -2.88 2.88
L 2.88 2.88
L 2.88 -2.88
L -2.88 -2.88
z" transform="translate(298.62 187.02)" style="fill: #1f77b4; stroke: #1f77b4; stroke-linejoin: miter"/>
<path d="M -2.88 2.88
L 2.88 2.88
L 2.88 -2.88
L -2.88 -2.88
z" transform="translate(323.82 181.26)" style="fill: #1f77b4; stroke: #1f77b4; stroke-linejoin: miter"/>
<path d="M -2.88 2.88
L 2.88 2.88
L 2.88 -2.88
L -2.88 -2.88
z" transform="translate(348.66 90.9)" style="fill: #1f77b4; stroke: #1f77b4; stroke-linejoin: miter"/>
<path d="M -2.88 2.88
L 2.88 2.88
L 2.88 -2.88
L -2.88 -2.88
z" transform="translate(373.86 214.02)" style="fill: #1f77b4; stroke: #1f77b4; stroke-linejoin: miter"/>
<path d="M -2.88 2.88
L 2.88 2.88
L 2.88 -2.88
L -2.88 -2.88
z" transform="translate(398.7 242.46)" style="fill: #1f77b4; stroke: #1f77b4; stroke-linejoin: miter"/>
</g>
</g>
<g id="line2d_19">
<path d="M 73.832727 295.488
L 98.806154 291.490895
L 123.77958 279.349845
L 148.753007 273.617714
L 173.726434 269.649315
L 198.69986 275.381446
L 223.673287 276.08694
L 248.646713 265.680916
L 273.62014 285.214035
L 298.593566 275.179877
L 323.566993 248.853097
L 348.54042 226.241138
L 373.513846 294.077014
L 398.487273 294.077014
" clip-path="url(#p86c582d0f3)" style="fill: none; stroke: #ff7f0e; stroke-width: 1.5; stroke-linecap: square"/>
<g clip-path="url(#p86c582d0f3)">
<path d="M 0 -2.88
L -2.88 2.88
L 2.88 2.88
z" transform="translate(73.98 295.74)" style="fill: #ff7f0e; stroke: #ff7f0e; stroke-linejoin: miter"/>
<path d="M 0 -2.88
L -2.88 2.88
L 2.88 2.88
z" transform="translate(98.82 291.78)" style="fill: #ff7f0e; stroke: #ff7f0e; stroke-linejoin: miter"/>
<path d="M 0 -2.88
L -2.88 2.88
L 2.88 2.88
z" transform="translate(124.02 279.54)" style="fill: #ff7f0e; stroke: #ff7f0e; stroke-linejoin: miter"/>
<path d="M 0 -2.88
L -2.88 2.88
L 2.88 2.88
z" transform="translate(148.86 273.78)" style="fill: #ff7f0e; stroke: #ff7f0e; stroke-linejoin: miter"/>
<path d="M 0 -2.88
L -2.88 2.88
L 2.88 2.88
z" transform="translate(174.06 269.82)" style="fill: #ff7f0e; stroke: #ff7f0e; stroke-linejoin: miter"/>
<path d="M 0 -2.88
L -2.88 2.88
L 2.88 2.88
z" transform="translate(198.9 275.58)" style="fill: #ff7f0e; stroke: #ff7f0e; stroke-linejoin: miter"/>
<path d="M 0 -2.88
L -2.88 2.88
L 2.88 2.88
z" transform="translate(223.74 276.3)" style="fill: #ff7f0e; stroke: #ff7f0e; stroke-linejoin: miter"/>
<path d="M 0 -2.88
L -2.88 2.88
L 2.88 2.88
z" transform="translate(248.94 265.86)" style="fill: #ff7f0e; stroke: #ff7f0e; stroke-linejoin: miter"/>
<path d="M 0 -2.88
L -2.88 2.88
L 2.88 2.88
z" transform="translate(273.78 285.3)" style="fill: #ff7f0e; stroke: #ff7f0e; stroke-linejoin: miter"/>
<path d="M 0 -2.88
L -2.88 2.88
L 2.88 2.88
z" transform="translate(298.62 275.22)" style="fill: #ff7f0e; stroke: #ff7f0e; stroke-linejoin: miter"/>
<path d="M 0 -2.88
L -2.88 2.88
L 2.88 2.88
z" transform="translate(323.82 248.94)" style="fill: #ff7f0e; stroke: #ff7f0e; stroke-linejoin: miter"/>
<path d="M 0 -2.88
L -2.88 2.88
L 2.88 2.88
z" transform="translate(348.66 226.26)" style="fill: #ff7f0e; stroke: #ff7f0e; stroke-linejoin: miter"/>
<path d="M 0 -2.88
L -2.88 2.88
L 2.88 2.88
z" transform="translate(373.86 294.3)" style="fill: #ff7f0e; stroke: #ff7f0e; stroke-linejoin: miter"/>
<path d="M 0 -2.88
L -2.88 2.88
L 2.88 2.88
z" transform="translate(398.7 294.3)" style="fill: #ff7f0e; stroke: #ff7f0e; stroke-linejoin: miter"/>
</g>
</g>
<g id="line2d_20">
<path d="M 73.832727 182.256356
L 98.806154 169.943329
L 123.77958 166.823695
L 148.753007 178.287958
L 173.726434 159.239644
L 198.69986 154.213005
L 223.673287 132.607279
L 248.646713 141.955063
L 273.62014 143.406375
L 298.593566 117.703737
L 323.566993 113.181345
L 348.54042 90.569387
L 373.513846 93.652836
L 398.487273 86.579041
" clip-path="url(#p86c582d0f3)" style="fill: none; stroke: #2ca02c; stroke-width: 1.5; stroke-linecap: square"/>
<g clip-path="url(#p86c582d0f3)">
<path d="M 0 3.027
C 0.8028 3.027 1.5728 2.7081 2.1404 2.1404
C 2.7081 1.5728 3.027 0.8028 3.027 0
C 3.027 -0.8028 2.7081 -1.5728 2.1404 -2.1404
C 1.5728 -2.7081 0.8028 -3.027 0 -3.027
C -0.8028 -3.027 -1.5728 -2.7081 -2.1404 -2.1404
C -2.7081 -1.5728 -3.027 -0.8028 -3.027 0
C -3.027 0.8028 -2.7081 1.5728 -2.1404 2.1404
C -1.5728 2.7081 -0.8028 3.027 0 3.027
z" transform="translate(73.98 182.34)" style="fill: #2ca02c; stroke: #2ca02c"/>
<path d="M 0 3.027
C 0.8028 3.027 1.5728 2.7081 2.1404 2.1404
C 2.7081 1.5728 3.027 0.8028 3.027 0
C 3.027 -0.8028 2.7081 -1.5728 2.1404 -2.1404
C 1.5728 -2.7081 0.8028 -3.027 0 -3.027
C -0.8028 -3.027 -1.5728 -2.7081 -2.1404 -2.1404
C -2.7081 -1.5728 -3.027 -0.8028 -3.027 0
C -3.027 0.8028 -2.7081 1.5728 -2.1404 2.1404
C -1.5728 2.7081 -0.8028 3.027 0 3.027
z" transform="translate(98.82 170.1)" style="fill: #2ca02c; stroke: #2ca02c"/>
<path d="M 0 3.027
C 0.8028 3.027 1.5728 2.7081 2.1404 2.1404
C 2.7081 1.5728 3.027 0.8028 3.027 0
C 3.027 -0.8028 2.7081 -1.5728 2.1404 -2.1404
C 1.5728 -2.7081 0.8028 -3.027 0 -3.027
C -0.8028 -3.027 -1.5728 -2.7081 -2.1404 -2.1404
C -2.7081 -1.5728 -3.027 -0.8028 -3.027 0
C -3.027 0.8028 -2.7081 1.5728 -2.1404 2.1404
C -1.5728 2.7081 -0.8028 3.027 0 3.027
z" transform="translate(124.02 166.86)" style="fill: #2ca02c; stroke: #2ca02c"/>
<path d="M 0 3.027
C 0.8028 3.027 1.5728 2.7081 2.1404 2.1404
C 2.7081 1.5728 3.027 0.8028 3.027 0
C 3.027 -0.8028 2.7081 -1.5728 2.1404 -2.1404
C 1.5728 -2.7081 0.8028 -3.027 0 -3.027
C -0.8028 -3.027 -1.5728 -2.7081 -2.1404 -2.1404
C -2.7081 -1.5728 -3.027 -0.8028 -3.027 0
C -3.027 0.8028 -2.7081 1.5728 -2.1404 2.1404
C -1.5728 2.7081 -0.8028 3.027 0 3.027
z" transform="translate(148.86 178.38)" style="fill: #2ca02c; stroke: #2ca02c"/>
<path d="M 0 3.027
C 0.8028 3.027 1.5728 2.7081 2.1404 2.1404
C 2.7081 1.5728 3.027 0.8028 3.027 0
C 3.027 -0.8028 2.7081 -1.5728 2.1404 -2.1404
C 1.5728 -2.7081 0.8028 -3.027 0 -3.027
C -0.8028 -3.027 -1.5728 -2.7081 -2.1404 -2.1404
C -2.7081 -1.5728 -3.027 -0.8028 -3.027 0
C -3.027 0.8028 -2.7081 1.5728 -2.1404 2.1404
C -1.5728 2.7081 -0.8028 3.027 0 3.027
z" transform="translate(174.06 159.3)" style="fill: #2ca02c; stroke: #2ca02c"/>
<path d="M 0 3.027
C 0.8028 3.027 1.5728 2.7081 2.1404 2.1404
C 2.7081 1.5728 3.027 0.8028 3.027 0
C 3.027 -0.8028 2.7081 -1.5728 2.1404 -2.1404
C 1.5728 -2.7081 0.8028 -3.027 0 -3.027
C -0.8028 -3.027 -1.5728 -2.7081 -2.1404 -2.1404
C -2.7081 -1.5728 -3.027 -0.8028 -3.027 0
C -3.027 0.8028 -2.7081 1.5728 -2.1404 2.1404
C -1.5728 2.7081 -0.8028 3.027 0 3.027
z" transform="translate(198.9 154.26)" style="fill: #2ca02c; stroke: #2ca02c"/>
<path d="M 0 3.027
C 0.8028 3.027 1.5728 2.7081 2.1404 2.1404
C 2.7081 1.5728 3.027 0.8028 3.027 0
C 3.027 -0.8028 2.7081 -1.5728 2.1404 -2.1404
C 1.5728 -2.7081 0.8028 -3.027 0 -3.027
C -0.8028 -3.027 -1.5728 -2.7081 -2.1404 -2.1404
C -2.7081 -1.5728 -3.027 -0.8028 -3.027 0
C -3.027 0.8028 -2.7081 1.5728 -2.1404 2.1404
C -1.5728 2.7081 -0.8028 3.027 0 3.027
z" transform="translate(223.74 132.66)" style="fill: #2ca02c; stroke: #2ca02c"/>
<path d="M 0 3.027
C 0.8028 3.027 1.5728 2.7081 2.1404 2.1404
C 2.7081 1.5728 3.027 0.8028 3.027 0
C 3.027 -0.8028 2.7081 -1.5728 2.1404 -2.1404
C 1.5728 -2.7081 0.8028 -3.027 0 -3.027
C -0.8028 -3.027 -1.5728 -2.7081 -2.1404 -2.1404
C -2.7081 -1.5728 -3.027 -0.8028 -3.027 0
C -3.027 0.8028 -2.7081 1.5728 -2.1404 2.1404
C -1.5728 2.7081 -0.8028 3.027 0 3.027
z" transform="translate(248.94 142.02)" style="fill: #2ca02c; stroke: #2ca02c"/>
<path d="M 0 3.027
C 0.8028 3.027 1.5728 2.7081 2.1404 2.1404
C 2.7081 1.5728 3.027 0.8028 3.027 0
C 3.027 -0.8028 2.7081 -1.5728 2.1404 -2.1404
C 1.5728 -2.7081 0.8028 -3.027 0 -3.027
C -0.8028 -3.027 -1.5728 -2.7081 -2.1404 -2.1404
C -2.7081 -1.5728 -3.027 -0.8028 -3.027 0
C -3.027 0.8028 -2.7081 1.5728 -2.1404 2.1404
C -1.5728 2.7081 -0.8028 3.027 0 3.027
z" transform="translate(273.78 143.46)" style="fill: #2ca02c; stroke: #2ca02c"/>
<path d="M 0 3.027
C 0.8028 3.027 1.5728 2.7081 2.1404 2.1404
C 2.7081 1.5728 3.027 0.8028 3.027 0
C 3.027 -0.8028 2.7081 -1.5728 2.1404 -2.1404
C 1.5728 -2.7081 0.8028 -3.027 0 -3.027
C -0.8028 -3.027 -1.5728 -2.7081 -2.1404 -2.1404
C -2.7081 -1.5728 -3.027 -0.8028 -3.027 0
C -3.027 0.8028 -2.7081 1.5728 -2.1404 2.1404
C -1.5728 2.7081 -0.8028 3.027 0 3.027
z" transform="translate(298.62 117.9)" style="fill: #2ca02c; stroke: #2ca02c"/>
<path d="M 0 3.027
C 0.8028 3.027 1.5728 2.7081 2.1404 2.1404
C 2.7081 1.5728 3.027 0.8028 3.027 0
C 3.027 -0.8028 2.7081 -1.5728 2.1404 -2.1404
C 1.5728 -2.7081 0.8028 -3.027 0 -3.027
C -0.8028 -3.027 -1.5728 -2.7081 -2.1404 -2.1404
C -2.7081 -1.5728 -3.027 -0.8028 -3.027 0
C -3.027 0.8028 -2.7081 1.5728 -2.1404 2.1404
C -1.5728 2.7081 -0.8028 3.027 0 3.027
z" transform="translate(323.82 113.22)" style="fill: #2ca02c; stroke: #2ca02c"/>
<path d="M 0 3.027
C 0.8028 3.027 1.5728 2.7081 2.1404 2.1404
C 2.7081 1.5728 3.027 0.8028 3.027 0
C 3.027 -0.8028 2.7081 -1.5728 2.1404 -2.1404
C 1.5728 -2.7081 0.8028 -3.027 0 -3.027
C -0.8028 -3.027 -1.5728 -2.7081 -2.1404 -2.1404
C -2.7081 -1.5728 -3.027 -0.8028 -3.027 0
C -3.027 0.8028 -2.7081 1.5728 -2.1404 2.1404
C -1.5728 2.7081 -0.8028 3.027 0 3.027
z" transform="translate(348.66 90.9)" style="fill: #2ca02c; stroke: #2ca02c"/>
<path d="M 0 3.027
C 0.8028 3.027 1.5728 2.7081 2.1404 2.1404
C 2.7081 1.5728 3.027 0.8028 3.027 0
C 3.027 -0.8028 2.7081 -1.5728 2.1404 -2.1404
C 1.5728 -2.7081 0.8028 -3.027 0 -3.027
C -0.8028 -3.027 -1.5728 -2.7081 -2.1404 -2.1404
C -2.7081 -1.5728 -3.027 -0.8028 -3.027 0
C -3.027 0.8028 -2.7081 1.5728 -2.1404 2.1404
C -1.5728 2.7081 -0.8028 3.027 0 3.027
z" transform="translate(373.86 93.78)" style="fill: #2ca02c; stroke: #2ca02c"/>
<path d="M 0 3.027
C 0.8028 3.027 1.5728 2.7081 2.1404 2.1404
C 2.7081 1.5728 3.027 0.8028 3.027 0
C 3.027 -0.8028 2.7081 -1.5728 2.1404 -2.1404
C 1.5728 -2.7081 0.8028 -3.027 0 -3.027
C -0.8028 -3.027 -1.5728 -2.7081 -2.1404 -2.1404
C -2.7081 -1.5728 -3.027 -0.8028 -3.027 0
C -3.027 0.8028 -2.7081 1.5728 -2.1404 2.1404
C -1.5728 2.7081 -0.8028 3.027 0 3.027
z" transform="translate(398.7 86.58)" style="fill: #2ca02c; stroke: #2ca02c"/>
</g>
</g>
<g id="line2d_21">
<path d="M 73.832727 196.630778
L 98.806154 175.115566
L 123.77958 181.550863
L 148.753007 185.078329
L 173.726434 181.550863
L 198.69986 172.555826
L 223.673287 166.823695
L 248.646713 148.480874
L 273.62014 130.111907
L 298.593566 155.498011
L 323.566993 113.181345
L 348.54042 226.241138
L 373.513846 53.568
L 398.487273 190.328027
" clip-path="url(#p86c582d0f3)" style="fill: none; stroke: #d62728; stroke-width: 1.5; stroke-linecap: square"/>
<g clip-path="url(#p86c582d0f3)">
<path d="M 0 2.88
L 2.88 -2.88
L -2.88 -2.88
z" transform="translate(73.98 196.74)" style="fill: #d62728; stroke: #d62728; stroke-linejoin: miter"/>
<path d="M 0 2.88
L 2.88 -2.88
L -2.88 -2.88
z" transform="translate(98.82 175.14)" style="fill: #d62728; stroke: #d62728; stroke-linejoin: miter"/>
<path d="M 0 2.88
L 2.88 -2.88
L -2.88 -2.88
z" transform="translate(124.02 181.62)" style="fill: #d62728; stroke: #d62728; stroke-linejoin: miter"/>
<path d="M 0 2.88
L 2.88 -2.88
L -2.88 -2.88
z" transform="translate(148.86 185.22)" style="fill: #d62728; stroke: #d62728; stroke-linejoin: miter"/>
<path d="M 0 2.88
L 2.88 -2.88
L -2.88 -2.88
z" transform="translate(174.06 181.62)" style="fill: #d62728; stroke: #d62728; stroke-linejoin: miter"/>
<path d="M 0 2.88
L 2.88 -2.88
L -2.88 -2.88
z" transform="translate(198.9 172.62)" style="fill: #d62728; stroke: #d62728; stroke-linejoin: miter"/>
<path d="M 0 2.88
L 2.88 -2.88
L -2.88 -2.88
z" transform="translate(223.74 166.86)" style="fill: #d62728; stroke: #d62728; stroke-linejoin: miter"/>
<path d="M 0 2.88
L 2.88 -2.88
L -2.88 -2.88
z" transform="translate(248.94 148.5)" style="fill: #d62728; stroke: #d62728; stroke-linejoin: miter"/>
<path d="M 0 2.88
L 2.88 -2.88
L -2.88 -2.88
z" transform="translate(273.78 130.14)" style="fill: #d62728; stroke: #d62728; stroke-linejoin: miter"/>
<path d="M 0 2.88
L 2.88 -2.88
L -2.88 -2.88
z" transform="translate(298.62 155.7)" style="fill: #d62728; stroke: #d62728; stroke-linejoin: miter"/>
<path d="M 0 2.88
L 2.88 -2.88
L -2.88 -2.88
z" transform="translate(323.82 113.22)" style="fill: #d62728; stroke: #d62728; stroke-linejoin: miter"/>
<path d="M 0 2.88
L 2.88 -2.88
L -2.88 -2.88
z" transform="translate(348.66 226.26)" style="fill: #d62728; stroke: #d62728; stroke-linejoin: miter"/>
<path d="M 0 2.88
L 2.88 -2.88
L -2.88 -2.88
z" transform="translate(373.86 53.82)" style="fill: #d62728; stroke: #d62728; stroke-linejoin: miter"/>
<path d="M 0 2.88
L 2.88 -2.88
L -2.88 -2.88
z" transform="translate(398.7 190.62)" style="fill: #d62728; stroke: #d62728; stroke-linejoin: miter"/>
</g>
</g>
<g id="patch_3">
<path d="M 57.6 307.44
L 57.6 41.4
" style="fill: none; stroke: #000000; stroke-width: 0.8; stroke-linejoin: miter; stroke-linecap: square"/>
</g>
<g id="patch_4">
<path d="M 414.72 307.44
L 414.72 41.4
" style="fill: none; stroke: #000000; stroke-width: 0.8; stroke-linejoin: miter; stroke-linecap: square"/>
</g>
<g id="patch_5"><rect x="57.2" y="307.08" width="357.92" height="0.72" fill="#000000"/><rect x="57.2" y="306.72" width="357.92" height="0.36" fill="#000000" fill-opacity="0.1111"/><rect x="57.2" y="307.8" width="357.92" height="0.36" fill="#000000" fill-opacity="0.1111"/></g>
<g id="patch_6"><rect x="57.2" y="41.04" width="357.92" height="0.72" fill="#000000"/><rect x="57.2" y="40.68" width="357.92" height="0.36" fill="#000000" fill-opacity="0.1111"/><rect x="57.2" y="41.76" width="357.92" height="0.36" fill="#000000" fill-opacity="0.1111"/></g>
<g id="legend_1">
<g id="patch_7">
<path d="M 64.62 114.3
L 241.38 114.3
Q 243.54 114.3 243.54 112.14
L 243.54 48.78
Q 243.54 46.62 241.38 46.62
L 64.62 46.62
Q 62.82 46.62 62.82 48.78
L 62.82 112.14
Q 62.82 114.3 64.62 114.3
z
" style="fill: #ffffff; opacity: 0.8; stroke: #cccccc; stroke-linejoin: miter"/>
</g>
<g id="line2d_22">
<path d="M 66.6 55.44
L 76.68 55.44
L 86.76 55.44
" style="fill: none; stroke: #1f77b4; stroke-width: 1.5; stroke-linecap: square"/>
<g>
<path d="M -2.88 2.88
L 2.88 2.88
L 2.88 -2.88
L -2.88 -2.88
z" transform="translate(76.86 55.62)" style="fill: #1f77b4; stroke: #1f77b4; stroke-linejoin: miter"/>
</g>
</g>
<g id="text_16">
<text x="95.04 101.52 108.72 114.84 120.24 126.36 129.24 132.12 141.84 148.32 154.8 158.04 161.28 168.12 174.24 177.84 183.96 187.92 197.64 203.76" y="59.04" style="font-size: 10px; font-family: 'DejaVu Sans', sans-serif">ΔRecall@10: Reformer</text>
</g>
<g id="line2d_23">
<path d="M 66.6 71.64
L 76.68 71.64
L 86.76 71.64
" style="fill: none; stroke: #ff7f0e; stroke-width: 1.5; stroke-linecap: square"/>
<g>
<path d="M 0 -2.88
L -2.88 2.88
L 2.88 2.88
z" transform="translate(76.86 71.82)" style="fill: #ff7f0e; stroke: #ff7f0e; stroke-linejoin: miter"/>
</g>
</g>
<g id="text_17">
<text x="95.04 101.52 108.72 114.84 120.24 126.36 129.24 132.12 141.84 148.32 154.8 158.04 161.28 167.4 171.36 177.48 182.88 189 192.6 198.72 202.68 212.4 218.52 222.84 226.44 233.28" y="75.24" style="font-size: 10px; font-family: 'DejaVu Sans', sans-serif">ΔRecall@10: Trasnformer-XL</text>
</g>
<g id="line2d_24">
<path d="M 66.6 87.84
L 76.68 87.84
L 86.76 87.84
" style="fill: none; stroke: #2ca02c; stroke-width: 1.5; stroke-linecap: square"/>
<g>
<path d="M 0 3.027
C 0.8028 3.027 1.5728 2.7081 2.1404 2.1404
C 2.7081 1.5728 3.027 0.8028 3.027 0
C 3.027 -0.8028 2.7081 -1.5728 2.1404 -2.1404
C 1.5728 -2.7081 0.8028 -3.027 0 -3.027
C -0.8028 -3.027 -1.5728 -2.7081 -2.1404 -2.1404
C -2.7081 -1.5728 -3.027 -0.8028 -3.027 0
C -3.027 0.8028 -2.7081 1.5728 -2.1404 2.1404
C -1.5728 2.7081 -0.8028 3.027 0 3.027
z" transform="translate(76.86 88.02)" style="fill: #2ca02c; stroke: #2ca02c"/>
</g>
</g>
<g id="text_18">
<text x="95.04 101.52 108.72 114.84 120.24 126.36 129.24 132.12 141.84 148.32 154.8 158.04 161.28 168.84 174.96" y="91.44" style="font-size: 10px; font-family: 'DejaVu Sans', sans-serif">ΔRecall@10: GPT</text>
</g>
<g id="line2d_25">
<path d="M 66.6 104.04
L 76.68 104.04
L 86.76 104.04
" style="fill: none; stroke: #d62728; stroke-width: 1.5; stroke-linecap: square"/>
<g>
<path d="M 0 2.88
L 2.88 -2.88
L -2.88 -2.88
z" transform="translate(76.86 104.22)" style="fill: #d62728; stroke: #d62728; stroke-linejoin: miter"/>
</g>
</g>
<g id="text_19">
<text x="95.04 101.52 108.72 114.84 120.24 126.36 129.24 132.12 141.84 148.32 154.8 158.04 161.28 168.84 174.96 181.08 184.68" y="107.64" style="font-size: 10px; font-family: 'DejaVu Sans', sans-serif">ΔRecall@10: GPT-2</text>
</g>
</g>
</g>
</g>
<defs>
<clipPath id="p86c582d0f3">
<rect x="57.6" y="41.472" width="357.12" height="266.112"/>
</clipPath>
</defs>
</svg>

</body></html>
